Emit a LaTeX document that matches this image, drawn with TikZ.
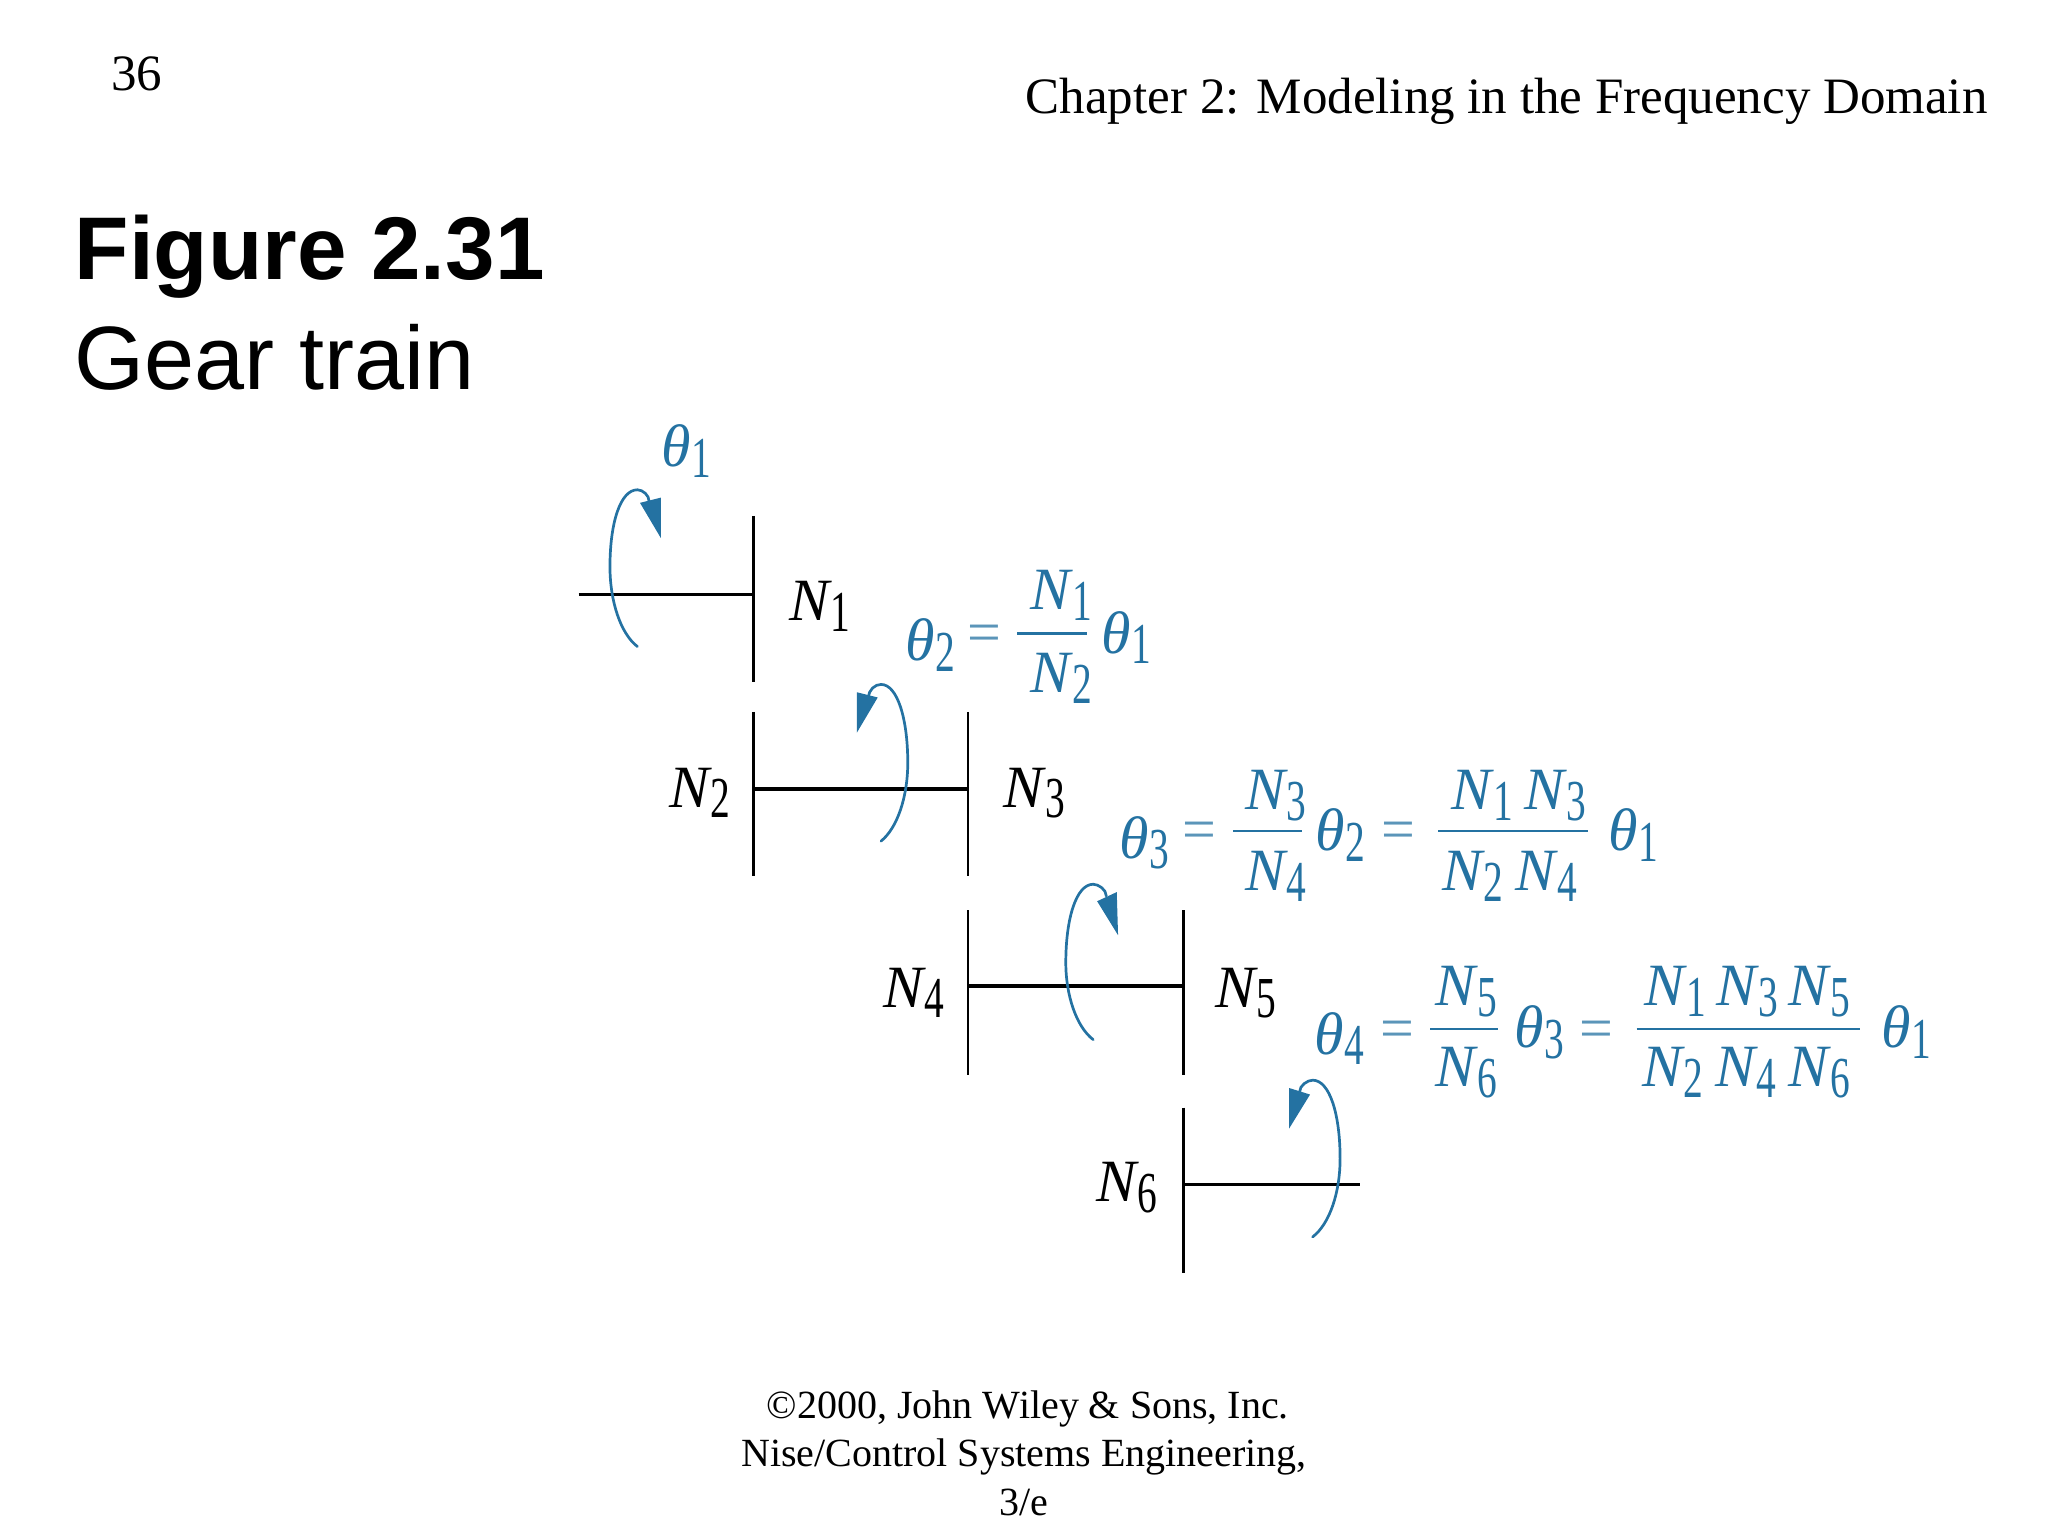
\documentclass[tikz,border=0pt]{standalone}
\usepackage{fontspec}
\usepackage{graphicx}
\setmainfont{Liberation Serif}
\newfontfamily\arialf{Liberation Sans}
\definecolor{wblue}{HTML}{2472A2}
\newcommand{\SubD}[1]{\kern-0.6pt\raisebox{-5.4pt}{\scalebox{.68}[1]{\fontsize{29}{29}\selectfont #1}}}
\newcommand{\Nn}[1]{\textit{N}\SubD{#1}}
\newcommand{\Th}[1]{\textit{θ}\kern0.8pt\SubD{#1}}
\newcommand{\Lab}[5][mathk]{\node[#1] (#2) at (#3,#4) {#5};}
\tikzset{
  mathk/.style={anchor=base west,inner sep=0pt,font=\fontsize{30}{30}\selectfont,text=black},
  mathb/.style={mathk,text=wblue},
  eqsign/.style={anchor=center,inner sep=0pt,font=\fontsize{30}{30}\selectfont,text=wblue!75},
  foot/.style={anchor=base,inner sep=0pt,font=\fontsize{20}{20}\selectfont},
  head/.style={inner sep=0pt,font=\fontsize{25.5}{26}\selectfont},
  title/.style={anchor=base west,inner sep=0pt,font=\arialf\fontsize{45}{45}\selectfont},
  gearline/.style={line width=1.25pt,black},
  shaft/.style={line width=1.7pt,black},
  fracbar/.style={line width=1.1pt,wblue},
  rot/.style={line width=1.35pt,wblue,line cap=round},
  rothead/.style={fill=wblue,draw=none}
}
\begin{document}
\begin{tikzpicture}[x=0.65306pt,y=-0.65306pt]
\useasboundingbox (0,0) rectangle (1568,1176);
% page text
\node[head,anchor=base west] (page) at (85,69) {36};
\node[head,anchor=base east] (chap) at (1522,87) {Chapter 2: Modeling in the Frequency Domain};
\node[title,font=\arialf\fontsize{44.5}{45}\selectfont] (fig) at (57,214) {\bfseries Figure 2.31};
\node[title] (cap) at (57,298) {Gear train};
\node[foot] (f1) at (787,1086) {©2000, John Wiley \& Sons, Inc.};
\node[foot] (f2) at (784,1123) {Nise/Control Systems Engineering,};
\node[foot] (f3) at (784,1160) {3/e};
% gears and shafts
\coordinate (g1t) at (577,395); \coordinate (g1b) at (577,522);
\coordinate (s1a) at (443,455); \coordinate (s1b) at (577,455);
\coordinate (g2t) at (577,545); \coordinate (g2b) at (577,671);
\coordinate (g3t) at (741,545); \coordinate (g3b) at (741,671);
\coordinate (s2a) at (577,604); \coordinate (s2b) at (741,604);
\coordinate (g4t) at (741,697); \coordinate (g4b) at (741,823);
\coordinate (g5t) at (906,697); \coordinate (g5b) at (906,823);
\coordinate (s3a) at (741,755); \coordinate (s3b) at (906,755);
\coordinate (g6t) at (906,848); \coordinate (g6b) at (906,975);
\coordinate (s4a) at (906,907); \coordinate (s4b) at (1041,907);
\draw[gearline] (g1t) -- (g1b);
\draw[gearline] (g2t) -- (g2b);
\draw[gearline] (g3t) -- (g3b);
\draw[gearline] (g4t) -- (g4b);
\draw[gearline] (g5t) -- (g5b);
\draw[gearline] (g6t) -- (g6b);
\draw[shaft] (s1a) -- (s1b);
\draw[shaft] (s2a) -- (s2b);
\draw[shaft] (s3a) -- (s3b);
\draw[shaft] (s4a) -- (s4b);
% rotation arrows
\draw[rot] (488,495) .. controls (475,485) and (467,460) .. (467,434) .. controls (467,400) and (475,375) .. (488,375) .. controls (492,375) and (497,379) .. (497,384);
\fill[rothead] (506,412) -- (490,385) -- (506,381) -- cycle;
\draw[rot] (674.5,644) .. controls (687,634) and (695,610) .. (695,584) .. controls (695,550) and (687,524) .. (674.5,524) .. controls (670,524) and (665,528) .. (665,534);
\fill[rothead] (656,561) -- (656,530) -- (672,534) -- cycle;
\draw[rot] (837,796) .. controls (824,786) and (816,762) .. (816,737) .. controls (816,703) and (824,677) .. (837,677) .. controls (841,677) and (847,681) .. (847,686);
\fill[rothead] (856,716) -- (840,690) -- (855,683) -- cycle;
\draw[rot] (1005,947) .. controls (1018,937) and (1026,913) .. (1026,887) .. controls (1026,853) and (1018,827) .. (1005,827) .. controls (1001,827) and (995,831) .. (995,836);
\fill[rothead] (987,864) -- (987,833) -- (1003,838) -- cycle;
% black labels
\Lab{n1}{604}{475}{\Nn1}
\Lab{n2}{512}{618}{\Nn2}
\Lab{n3}{768}{618}{\Nn3}
\Lab{n4}{676}{771}{\Nn4}
\Lab{n5}{930}{771}{\Nn5}
\Lab{n6}{839}{920}{\Nn6}
% theta 1
\Lab[mathb]{t1}{506}{357}{\Th1}
% equation 2
\Lab[mathb]{e2a}{693}{506}{\Th2}
\node[eqsign] (e2b) at (754,489) {=};
\Lab[mathb]{e2c}{789}{467}{\Nn1}
\Lab[mathb]{e2d}{789}{530}{\Nn2}
\draw[fracbar] (779,485) -- (832,485);
\Lab[mathb]{e2e}{843}{500}{\Th1}
% equation 3
\Lab[mathb]{e3a}{857}{657}{\Th3}
\node[eqsign] (e3b) at (918,640) {=};
\Lab[mathb]{e3c}{953}{620}{\Nn3}
\Lab[mathb]{e3d}{953}{682}{\Nn4}
\draw[fracbar] (944,636) -- (997,636);
\Lab[mathb]{e3e}{1007}{651}{\Th2}
\node[eqsign] (e3f) at (1071,640) {=};
\Lab[mathb]{e3g}{1111}{620}{\Nn1}
\Lab[mathb]{e3h}{1167}{620}{\Nn3}
\Lab[mathb]{e3i}{1104}{682}{\Nn2}
\Lab[mathb]{e3j}{1160}{682}{\Nn4}
\draw[fracbar] (1101,636) -- (1216,636);
\Lab[mathb]{e3k}{1231}{651}{\Th1}
% equation 4
\Lab[mathb]{e4a}{1006}{807}{\Th4}
\node[eqsign] (e4b) at (1070,792) {=};
\Lab[mathb]{e4c}{1099}{770}{\Nn5}
\Lab[mathb]{e4d}{1099}{832}{\Nn6}
\draw[fracbar] (1095,788) -- (1147,788);
\Lab[mathb]{e4e}{1159}{802}{\Th3}
\node[eqsign] (e4f) at (1222,792) {=};
\Lab[mathb]{e4g}{1259}{770}{\Nn1}
\Lab[mathb]{e4h}{1314}{770}{\Nn3}
\Lab[mathb]{e4i}{1369}{770}{\Nn5}
\Lab[mathb]{e4j}{1257}{832}{\Nn2}
\Lab[mathb]{e4k}{1313}{832}{\Nn4}
\Lab[mathb]{e4l}{1369}{832}{\Nn6}
\draw[fracbar] (1253,788) -- (1424,788);
\Lab[mathb]{e4m}{1440}{802}{\Th1}
\end{tikzpicture}
\end{document}
